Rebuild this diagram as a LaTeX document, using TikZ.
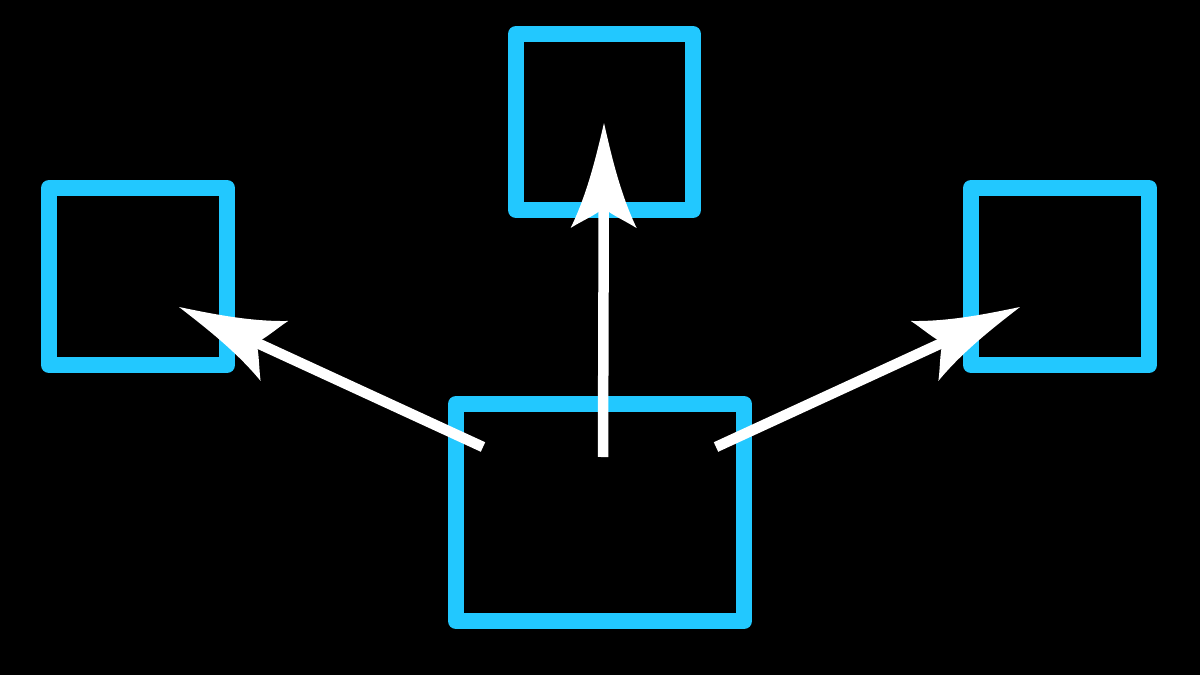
\documentclass[tikz,border=0pt]{standalone}
\usetikzlibrary{calc,decorations.markings}
\definecolor{boxcyan}{RGB}{34,200,255}
\tikzset{
  box/.style={draw=boxcyan, line width=16pt, line join=round, inner sep=0pt, minimum width=178pt, minimum height=177pt},
  shaft/.style={draw=white, line width=10.5pt},
  headpath/.style={postaction={decorate, decoration={markings, mark=at position 1 with {
     \fill[white] (0pt,0pt) .. controls (-30pt,7pt) and (-70pt,16pt) .. (-105pt,33pt)
       .. controls (-98pt,22pt) and (-92pt,8pt) .. (-85pt,0pt)
       .. controls (-92pt,-8pt) and (-98pt,-22pt) .. (-105pt,-33pt)
       .. controls (-70pt,-16pt) and (-30pt,-7pt) .. (0pt,0pt) -- cycle;}}}}
}
\begin{document}
\begin{tikzpicture}[x=1pt,y=-1pt]
\fill[black] (0,0) rectangle (1200,675);
\useasboundingbox (0,0) rectangle (1200,675);
\node[box] (left) at (138,276.5) {};
\node[box, minimum width=177pt, minimum height=176pt] (top) at (604.5,122) {};
\node[box] (right) at (1060,276.5) {};
\node[box, minimum width=288pt, minimum height=217pt] (bottom) at (600,512.5) {};
\coordinate (sL) at (483,447);
\coordinate (tL) at (179,307);
\coordinate (sM) at (603,457);
\coordinate (tM) at (604,123);
\coordinate (sR) at (716,447);
\coordinate (tR) at (1020,307);
\foreach \s/\t in {sL/tL, sM/tM, sR/tR}{
  \draw[shaft] (\s) -- ($(\t)!65pt!(\s)$);
  \path[headpath] (\s) -- (\t);
}
\end{tikzpicture}
\end{document}
